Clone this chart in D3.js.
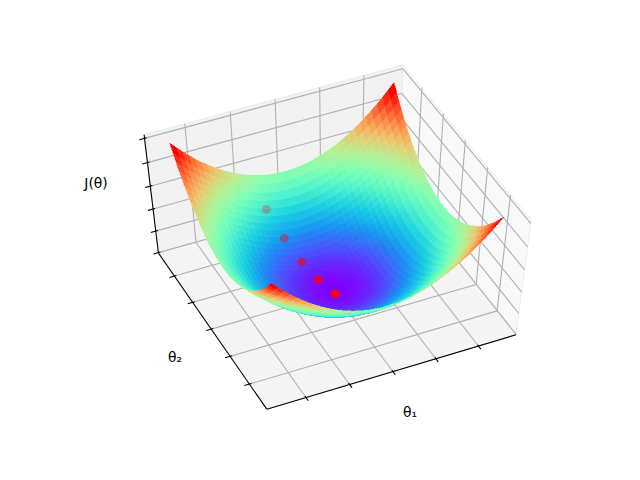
<!DOCTYPE html>
<html><head><meta charset="utf-8">
<script src="https://cdn.jsdelivr.net/npm/d3@7"></script>
<style>html,body{margin:0;background:#fff}svg{display:block}text{font-family:"DejaVu Sans";font-size:13.9px;fill:#000;text-anchor:middle}</style>
</head><body><svg id="chart" width="640" height="480"></svg>
<script>
// surface: J along each theta
const thetaGrid = [-2.5,-2.375,-2.25,-2.125,-2,-1.875,-1.75,-1.625,-1.5,-1.375,-1.25,-1.125,-1,-0.875,-0.75,-0.625,-0.5,-0.375,-0.25,-0.125,0,0.125,0.25,0.375,0.5,0.625,0.75,0.875,1,1.125,1.25,1.375,1.5,1.625,1.75,1.875,2,2.125,2.25,2.375,2.5];
const jTheta1 = [2.515,2.275,2.047,1.831,1.628,1.437,1.258,1.091,0.937,0.796,0.666,0.549,0.444,0.352,0.272,0.204,0.149,0.105,0.075,0.056,0.05,0.056,0.075,0.105,0.149,0.204,0.272,0.352,0.444,0.549,0.666,0.796,0.937,1.091,1.258,1.437,1.628,1.831,2.047,2.275,2.515];
const jTheta2 = [2.515,2.275,2.047,1.831,1.628,1.437,1.258,1.091,0.937,0.796,0.666,0.549,0.444,0.352,0.272,0.204,0.149,0.105,0.075,0.056,0.05,0.056,0.075,0.105,0.149,0.204,0.272,0.352,0.444,0.549,0.666,0.796,0.937,1.091,1.258,1.437,1.628,1.831,2.047,2.275,2.515];

// descent steps
const stepTheta1 = [-0.62,-0.47,-0.32,-0.175,-0.027];
const stepTheta2 = [2.127,1.554,0.999,0.462,-0.074];
const stepJ = [1.65,0.92,0.42,0.15,0.07];

const thetaTicks = [-2,-1,0,1,2];
const jTicks = [0,1,2,3,4,5];
const rainbowStops = ['#8000ff','#4d4ffc','#1a96f2','#1acee3','#4df2ce','#80ffb4','#b3f296','#e6ce74','#ff964f','#ff4f28','#ff0000'];

// camera, fitted to the box corners
const elev = 54.909 * Math.PI / 180;
const azim = -114.877 * Math.PI / 180;
const dist = 10, scaleX = 2799.1, scaleY = 2095, centerX = 334.8, centerY = 237.3;
const halfZ = 0.484;

const ce = Math.cos(elev), se = Math.sin(elev), ca = Math.cos(azim), sa = Math.sin(azim);
function project(p) {
  const X = -sa * p[0] + ca * p[1];
  const Y = -se * ca * p[0] - se * sa * p[1] + ce * p[2];
  const D = dist - (ce * ca * p[0] + ce * sa * p[1] + se * p[2]);
  return [centerX + scaleX * X / D, centerY - scaleY * Y / D, D];
}

const xScale = d3.scaleLinear().domain([-2.89, 2.89]).range([-0.5, 0.5]);
const zScale = d3.scaleLinear().domain([-0.02, 5.15]).range([-halfZ, halfZ]);

const svg = d3.select('#chart');
const path2d = d3.line();

function segment(a, b, stroke, width = 1.1) {
  const p = project(a), q = project(b);
  svg.append('line').attr('x1', p[0]).attr('y1', p[1]).attr('x2', q[0]).attr('y2', q[1])
    .attr('stroke', stroke).attr('stroke-width', width);
}
function pane(corners, fill) {
  svg.append('path').attr('d', path2d(corners.map((c) => project(c).slice(0, 2))) + 'Z')
    .attr('fill', fill).attr('stroke', '#ececec').attr('stroke-width', 1);
}

const a = 0.5, c = halfZ;
pane([[-a, -a, -c], [a, -a, -c], [a, a, -c], [-a, a, -c]], '#f5f5f5');
pane([[-a, a, -c], [a, a, -c], [a, a, c], [-a, a, c]], '#f2f2f2');
pane([[a, -a, -c], [a, a, -c], [a, a, c], [a, -a, c]], '#f9f9f9');

const gridColor = '#b0b0b0';
thetaTicks.forEach((t) => {
  const v = xScale(t);
  segment([v, -a, -c], [v, a, -c], gridColor);
  segment([v, a, -c], [v, a, c], gridColor);
  segment([-a, v, -c], [a, v, -c], gridColor);
  segment([a, v, -c], [a, v, c], gridColor);
});
jTicks.forEach((t) => {
  const v = zScale(t);
  segment([-a, a, v], [a, a, v], gridColor);
  segment([a, a, v], [a, -a, v], gridColor);
});

// axis lines and ticks
segment([-a, a, c], [-a, a, -c], '#000');
segment([-a, a, -c], [-a, -a, -c], '#000');
segment([-a, -a, -c], [a, -a, -c], '#000');
thetaTicks.forEach((t) => {
  const v = xScale(t);
  segment([v, -a - 0.02, -c], [v, -a + 0.008, -c], '#000');
  segment([-a - 0.02, v, -c], [-a + 0.008, v, -c], '#000');
});
jTicks.forEach((t) => {
  const v = zScale(t);
  segment([-a - 0.02, a, v], [-a + 0.008, a, v], '#000');
});

// surface cells, far ones first
const cells = [];
d3.range(thetaGrid.length - 1).forEach((i) => {
  d3.range(thetaGrid.length - 1).forEach((j) => {
    const corners = [[i, j], [i + 1, j], [i + 1, j + 1], [i, j + 1]];
    const js = corners.map(([m, n]) => jTheta1[m] + jTheta2[n]);
    const pts = corners.map(([m, n], k) => project([xScale(thetaGrid[m]), xScale(thetaGrid[n]), zScale(js[k])]));
    cells.push({ pts, depth: d3.mean(pts, (d) => d[2]), j: d3.mean(js) });
  });
});
cells.sort((p, q) => q.depth - p.depth);

// colours run over the cell means, as plot_surface does
const colorPos = d3.scaleLinear().domain(d3.extent(cells, (d) => d.j)).range([0, 1]);
const rainbow = d3.scaleLinear().domain(d3.range(11).map((i) => i / 10)).range(rainbowStops);
const color = (j) => rainbow(colorPos(j));

svg.append('g').attr('shape-rendering', 'crispEdges')
  .selectAll('path').data(cells).join('path')
  .attr('d', (d) => path2d(d.pts.map((q) => q.slice(0, 2))) + 'Z')
  .attr('fill', (d) => color(d.j))
  .attr('stroke', (d) => color(d.j))
  .attr('stroke-width', 0.5);

// steps fade out with distance from the minimum
const fade = d3.scalePow().exponent(1.3).domain([0, stepJ.length - 1]).range([0.27, 1]);
svg.append('g').selectAll('circle').data(stepJ).join('circle')
  .each(function (d, i) {
    const p = project([xScale(stepTheta1[i]), xScale(stepTheta2[i]), zScale(d)]);
    d3.select(this).attr('cx', p[0]).attr('cy', p[1]);
  })
  .attr('r', 4.4).attr('fill', '#ff0000').attr('fill-opacity', (d, i) => fade(i));

svg.append('text').attr('x', 96).attr('y', 188).text('J(θ)');
svg.append('text').attr('x', 175).attr('y', 362).text('θ₂');
svg.append('text').attr('x', 410).attr('y', 417).text('θ₁');
</script></body></html>
